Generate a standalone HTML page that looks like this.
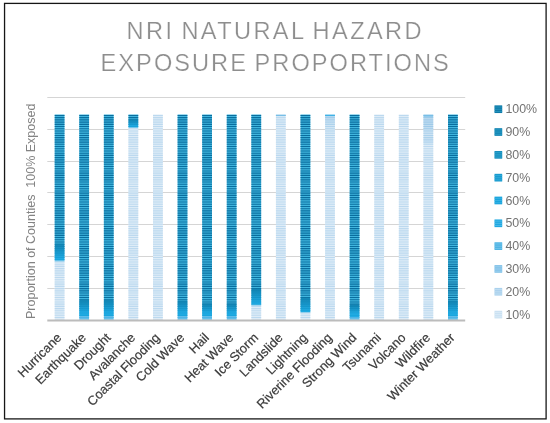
<!DOCTYPE html>
<html lang="en"><head><meta charset="utf-8"><title>NRI Natural Hazard Exposure Proportions</title>
<style>html,body{margin:0;padding:0;background:#fff}body{width:550px;height:423px;overflow:hidden}svg{display:block}text{font-family:"Liberation Sans",Arial,sans-serif}</style></head><body>
<svg width="550" height="423" viewBox="0 0 550 423">
<defs>
<mask id="mk" maskUnits="userSpaceOnUse" x="0" y="0" width="550" height="423"><path fill="#fff" d="M0 114.90h600v1.11h-600zM0 117.12h600v1.11h-600zM0 119.34h600v1.11h-600zM0 121.56h600v1.11h-600zM0 123.78h600v1.11h-600zM0 126.00h600v1.11h-600zM0 128.22h600v1.11h-600zM0 130.44h600v1.11h-600zM0 132.66h600v1.11h-600zM0 134.88h600v1.11h-600zM0 137.10h600v1.11h-600zM0 139.32h600v1.11h-600zM0 141.54h600v1.11h-600zM0 143.76h600v1.11h-600zM0 145.98h600v1.11h-600zM0 148.20h600v1.11h-600zM0 150.42h600v1.11h-600zM0 152.64h600v1.11h-600zM0 154.86h600v1.11h-600zM0 157.08h600v1.11h-600zM0 159.30h600v1.11h-600zM0 161.52h600v1.11h-600zM0 163.74h600v1.11h-600zM0 165.96h600v1.11h-600zM0 168.18h600v1.11h-600zM0 170.40h600v1.11h-600zM0 172.62h600v1.11h-600zM0 174.84h600v1.11h-600zM0 177.06h600v1.11h-600zM0 179.28h600v1.11h-600zM0 181.50h600v1.11h-600zM0 183.72h600v1.11h-600zM0 185.94h600v1.11h-600zM0 188.16h600v1.11h-600zM0 190.38h600v1.11h-600zM0 192.60h600v1.11h-600zM0 194.82h600v1.11h-600zM0 197.04h600v1.11h-600zM0 199.26h600v1.11h-600zM0 201.48h600v1.11h-600zM0 203.70h600v1.11h-600zM0 205.92h600v1.11h-600zM0 208.14h600v1.11h-600zM0 210.36h600v1.11h-600zM0 212.58h600v1.11h-600zM0 214.80h600v1.11h-600zM0 217.02h600v1.11h-600zM0 219.24h600v1.11h-600zM0 221.46h600v1.11h-600zM0 223.68h600v1.11h-600zM0 225.90h600v1.11h-600zM0 228.12h600v1.11h-600zM0 230.34h600v1.11h-600zM0 232.56h600v1.11h-600zM0 234.78h600v1.11h-600zM0 237.00h600v1.11h-600zM0 239.22h600v1.11h-600zM0 241.44h600v1.11h-600zM0 243.66h600v1.11h-600zM0 245.88h600v1.11h-600zM0 248.10h600v1.11h-600zM0 250.32h600v1.11h-600zM0 252.54h600v1.11h-600zM0 254.76h600v1.11h-600zM0 256.98h600v1.11h-600zM0 259.20h600v1.11h-600zM0 261.42h600v1.11h-600zM0 263.64h600v1.11h-600zM0 265.86h600v1.11h-600zM0 268.08h600v1.11h-600zM0 270.30h600v1.11h-600zM0 272.52h600v1.11h-600zM0 274.74h600v1.11h-600zM0 276.96h600v1.11h-600zM0 279.18h600v1.11h-600zM0 281.40h600v1.11h-600zM0 283.62h600v1.11h-600zM0 285.84h600v1.11h-600zM0 288.06h600v1.11h-600zM0 290.28h600v1.11h-600zM0 292.50h600v1.11h-600zM0 294.72h600v1.11h-600zM0 296.94h600v1.11h-600zM0 299.16h600v1.11h-600zM0 301.38h600v1.11h-600zM0 303.60h600v1.11h-600zM0 305.82h600v1.11h-600zM0 308.04h600v1.11h-600zM0 310.26h600v1.11h-600zM0 312.48h600v1.11h-600zM0 314.70h600v1.11h-600zM0 316.92h600v1.11h-600zM0 319.14h600v1.11h-600zM0 321.36h600v1.11h-600zM0 323.58h600v1.11h-600zM0 325.80h600v1.11h-600z"/></mask>
<linearGradient id="g0" gradientUnits="userSpaceOnUse" x1="0" y1="114.5" x2="0" y2="319.6">
<stop offset="0.0000" stop-color="#40b6de"/>
<stop offset="0.6265" stop-color="#40b6de"/>
<stop offset="0.6338" stop-color="#1589b8"/>
<stop offset="0.7036" stop-color="#22ace4"/>
<stop offset="0.7075" stop-color="#22ace4"/>
<stop offset="0.7192" stop-color="#deecf7"/>
<stop offset="1.0000" stop-color="#deecf7"/>
</linearGradient>
<linearGradient id="h0" gradientUnits="userSpaceOnUse" x1="0" y1="114.5" x2="0" y2="319.6">
<stop offset="0.0000" stop-color="#0a6e9f"/>
<stop offset="0.6265" stop-color="#0a6e9f"/>
<stop offset="0.6338" stop-color="#0e80af"/>
<stop offset="0.7036" stop-color="#17a2da"/>
<stop offset="0.7075" stop-color="#17a2da"/>
<stop offset="0.7192" stop-color="#bcd9ef"/>
<stop offset="1.0000" stop-color="#bcd9ef"/>
</linearGradient>
<linearGradient id="g1" gradientUnits="userSpaceOnUse" x1="0" y1="114.5" x2="0" y2="319.6">
<stop offset="0.0000" stop-color="#40b6de"/>
<stop offset="0.8996" stop-color="#40b6de"/>
<stop offset="0.9069" stop-color="#1589b8"/>
<stop offset="0.9664" stop-color="#22ace4"/>
<stop offset="0.9824" stop-color="#22ace4"/>
<stop offset="0.9849" stop-color="#62beea"/>
<stop offset="1.0000" stop-color="#62beea"/>
</linearGradient>
<linearGradient id="h1" gradientUnits="userSpaceOnUse" x1="0" y1="114.5" x2="0" y2="319.6">
<stop offset="0.0000" stop-color="#0a6e9f"/>
<stop offset="0.8996" stop-color="#0a6e9f"/>
<stop offset="0.9069" stop-color="#0e80af"/>
<stop offset="0.9664" stop-color="#17a2da"/>
<stop offset="0.9824" stop-color="#17a2da"/>
<stop offset="0.9849" stop-color="#4fb5e6"/>
<stop offset="1.0000" stop-color="#4fb5e6"/>
</linearGradient>
<linearGradient id="g2" gradientUnits="userSpaceOnUse" x1="0" y1="114.5" x2="0" y2="319.6">
<stop offset="0.0000" stop-color="#40b6de"/>
<stop offset="0.8996" stop-color="#40b6de"/>
<stop offset="0.9069" stop-color="#1589b8"/>
<stop offset="0.9664" stop-color="#22ace4"/>
<stop offset="0.9824" stop-color="#22ace4"/>
<stop offset="0.9849" stop-color="#62beea"/>
<stop offset="1.0000" stop-color="#62beea"/>
</linearGradient>
<linearGradient id="h2" gradientUnits="userSpaceOnUse" x1="0" y1="114.5" x2="0" y2="319.6">
<stop offset="0.0000" stop-color="#0a6e9f"/>
<stop offset="0.8996" stop-color="#0a6e9f"/>
<stop offset="0.9069" stop-color="#0e80af"/>
<stop offset="0.9664" stop-color="#17a2da"/>
<stop offset="0.9824" stop-color="#17a2da"/>
<stop offset="0.9849" stop-color="#4fb5e6"/>
<stop offset="1.0000" stop-color="#4fb5e6"/>
</linearGradient>
<linearGradient id="g3" gradientUnits="userSpaceOnUse" x1="0" y1="114.5" x2="0" y2="319.6">
<stop offset="0.0000" stop-color="#40b6de"/>
<stop offset="0.0195" stop-color="#40b6de"/>
<stop offset="0.0268" stop-color="#1589b8"/>
<stop offset="0.0570" stop-color="#22ace4"/>
<stop offset="0.0609" stop-color="#22ace4"/>
<stop offset="0.0668" stop-color="#deecf7"/>
<stop offset="1.0000" stop-color="#deecf7"/>
</linearGradient>
<linearGradient id="h3" gradientUnits="userSpaceOnUse" x1="0" y1="114.5" x2="0" y2="319.6">
<stop offset="0.0000" stop-color="#0a6e9f"/>
<stop offset="0.0195" stop-color="#0a6e9f"/>
<stop offset="0.0268" stop-color="#0e80af"/>
<stop offset="0.0570" stop-color="#17a2da"/>
<stop offset="0.0609" stop-color="#17a2da"/>
<stop offset="0.0668" stop-color="#bcd9ef"/>
<stop offset="1.0000" stop-color="#bcd9ef"/>
</linearGradient>
<linearGradient id="g4" gradientUnits="userSpaceOnUse" x1="0" y1="114.5" x2="0" y2="319.6">
<stop offset="0.0000" stop-color="#deecf7"/>
<stop offset="1.0000" stop-color="#deecf7"/>
</linearGradient>
<linearGradient id="h4" gradientUnits="userSpaceOnUse" x1="0" y1="114.5" x2="0" y2="319.6">
<stop offset="0.0000" stop-color="#bcd9ef"/>
<stop offset="1.0000" stop-color="#bcd9ef"/>
</linearGradient>
<linearGradient id="g5" gradientUnits="userSpaceOnUse" x1="0" y1="114.5" x2="0" y2="319.6">
<stop offset="0.0000" stop-color="#40b6de"/>
<stop offset="0.9044" stop-color="#40b6de"/>
<stop offset="0.9118" stop-color="#1589b8"/>
<stop offset="0.9664" stop-color="#22ace4"/>
<stop offset="0.9824" stop-color="#22ace4"/>
<stop offset="0.9849" stop-color="#62beea"/>
<stop offset="1.0000" stop-color="#62beea"/>
</linearGradient>
<linearGradient id="h5" gradientUnits="userSpaceOnUse" x1="0" y1="114.5" x2="0" y2="319.6">
<stop offset="0.0000" stop-color="#0a6e9f"/>
<stop offset="0.9044" stop-color="#0a6e9f"/>
<stop offset="0.9118" stop-color="#0e80af"/>
<stop offset="0.9664" stop-color="#17a2da"/>
<stop offset="0.9824" stop-color="#17a2da"/>
<stop offset="0.9849" stop-color="#4fb5e6"/>
<stop offset="1.0000" stop-color="#4fb5e6"/>
</linearGradient>
<linearGradient id="g6" gradientUnits="userSpaceOnUse" x1="0" y1="114.5" x2="0" y2="319.6">
<stop offset="0.0000" stop-color="#40b6de"/>
<stop offset="0.9191" stop-color="#40b6de"/>
<stop offset="0.9264" stop-color="#1589b8"/>
<stop offset="0.9664" stop-color="#22ace4"/>
<stop offset="0.9800" stop-color="#22ace4"/>
<stop offset="0.9824" stop-color="#62beea"/>
<stop offset="1.0000" stop-color="#62beea"/>
</linearGradient>
<linearGradient id="h6" gradientUnits="userSpaceOnUse" x1="0" y1="114.5" x2="0" y2="319.6">
<stop offset="0.0000" stop-color="#0a6e9f"/>
<stop offset="0.9191" stop-color="#0a6e9f"/>
<stop offset="0.9264" stop-color="#0e80af"/>
<stop offset="0.9664" stop-color="#17a2da"/>
<stop offset="0.9800" stop-color="#17a2da"/>
<stop offset="0.9824" stop-color="#4fb5e6"/>
<stop offset="1.0000" stop-color="#4fb5e6"/>
</linearGradient>
<linearGradient id="g7" gradientUnits="userSpaceOnUse" x1="0" y1="114.5" x2="0" y2="319.6">
<stop offset="0.0000" stop-color="#40b6de"/>
<stop offset="0.9191" stop-color="#40b6de"/>
<stop offset="0.9264" stop-color="#1589b8"/>
<stop offset="0.9664" stop-color="#22ace4"/>
<stop offset="0.9800" stop-color="#22ace4"/>
<stop offset="0.9824" stop-color="#62beea"/>
<stop offset="1.0000" stop-color="#62beea"/>
</linearGradient>
<linearGradient id="h7" gradientUnits="userSpaceOnUse" x1="0" y1="114.5" x2="0" y2="319.6">
<stop offset="0.0000" stop-color="#0a6e9f"/>
<stop offset="0.9191" stop-color="#0a6e9f"/>
<stop offset="0.9264" stop-color="#0e80af"/>
<stop offset="0.9664" stop-color="#17a2da"/>
<stop offset="0.9800" stop-color="#17a2da"/>
<stop offset="0.9824" stop-color="#4fb5e6"/>
<stop offset="1.0000" stop-color="#4fb5e6"/>
</linearGradient>
<linearGradient id="g8" gradientUnits="userSpaceOnUse" x1="0" y1="114.5" x2="0" y2="319.6">
<stop offset="0.0000" stop-color="#40b6de"/>
<stop offset="0.8459" stop-color="#40b6de"/>
<stop offset="0.8532" stop-color="#1589b8"/>
<stop offset="0.9215" stop-color="#22ace4"/>
<stop offset="0.9249" stop-color="#22ace4"/>
<stop offset="0.9337" stop-color="#deecf7"/>
<stop offset="1.0000" stop-color="#deecf7"/>
</linearGradient>
<linearGradient id="h8" gradientUnits="userSpaceOnUse" x1="0" y1="114.5" x2="0" y2="319.6">
<stop offset="0.0000" stop-color="#0a6e9f"/>
<stop offset="0.8459" stop-color="#0a6e9f"/>
<stop offset="0.8532" stop-color="#0e80af"/>
<stop offset="0.9215" stop-color="#17a2da"/>
<stop offset="0.9249" stop-color="#17a2da"/>
<stop offset="0.9337" stop-color="#bcd9ef"/>
<stop offset="1.0000" stop-color="#bcd9ef"/>
</linearGradient>
<linearGradient id="g9" gradientUnits="userSpaceOnUse" x1="0" y1="114.5" x2="0" y2="319.6">
<stop offset="0.0000" stop-color="#93cbec"/>
<stop offset="0.0063" stop-color="#93cbec"/>
<stop offset="0.0102" stop-color="#deecf7"/>
<stop offset="1.0000" stop-color="#deecf7"/>
</linearGradient>
<linearGradient id="h9" gradientUnits="userSpaceOnUse" x1="0" y1="114.5" x2="0" y2="319.6">
<stop offset="0.0000" stop-color="#78bee6"/>
<stop offset="0.0063" stop-color="#78bee6"/>
<stop offset="0.0102" stop-color="#bcd9ef"/>
<stop offset="1.0000" stop-color="#bcd9ef"/>
</linearGradient>
<linearGradient id="g10" gradientUnits="userSpaceOnUse" x1="0" y1="114.5" x2="0" y2="319.6">
<stop offset="0.0000" stop-color="#40b6de"/>
<stop offset="0.8898" stop-color="#40b6de"/>
<stop offset="0.8971" stop-color="#1589b8"/>
<stop offset="0.9571" stop-color="#22ace4"/>
<stop offset="0.9605" stop-color="#22ace4"/>
<stop offset="0.9678" stop-color="#deecf7"/>
<stop offset="1.0000" stop-color="#deecf7"/>
</linearGradient>
<linearGradient id="h10" gradientUnits="userSpaceOnUse" x1="0" y1="114.5" x2="0" y2="319.6">
<stop offset="0.0000" stop-color="#0a6e9f"/>
<stop offset="0.8898" stop-color="#0a6e9f"/>
<stop offset="0.8971" stop-color="#0e80af"/>
<stop offset="0.9571" stop-color="#17a2da"/>
<stop offset="0.9605" stop-color="#17a2da"/>
<stop offset="0.9678" stop-color="#bcd9ef"/>
<stop offset="1.0000" stop-color="#bcd9ef"/>
</linearGradient>
<linearGradient id="g11" gradientUnits="userSpaceOnUse" x1="0" y1="114.5" x2="0" y2="319.6">
<stop offset="0.0000" stop-color="#5cbcea"/>
<stop offset="0.0068" stop-color="#5cbcea"/>
<stop offset="0.0102" stop-color="#c0dcf0"/>
<stop offset="0.0366" stop-color="#cde3f3"/>
<stop offset="0.1243" stop-color="#deecf7"/>
<stop offset="1.0000" stop-color="#deecf7"/>
</linearGradient>
<linearGradient id="h11" gradientUnits="userSpaceOnUse" x1="0" y1="114.5" x2="0" y2="319.6">
<stop offset="0.0000" stop-color="#3fb1e5"/>
<stop offset="0.0068" stop-color="#3fb1e5"/>
<stop offset="0.0102" stop-color="#9fcae9"/>
<stop offset="0.0366" stop-color="#abd1ec"/>
<stop offset="0.1243" stop-color="#bcd9ef"/>
<stop offset="1.0000" stop-color="#bcd9ef"/>
</linearGradient>
<linearGradient id="g12" gradientUnits="userSpaceOnUse" x1="0" y1="114.5" x2="0" y2="319.6">
<stop offset="0.0000" stop-color="#40b6de"/>
<stop offset="0.9239" stop-color="#40b6de"/>
<stop offset="0.9313" stop-color="#1589b8"/>
<stop offset="0.9703" stop-color="#22ace4"/>
<stop offset="0.9849" stop-color="#22ace4"/>
<stop offset="0.9873" stop-color="#62beea"/>
<stop offset="1.0000" stop-color="#62beea"/>
</linearGradient>
<linearGradient id="h12" gradientUnits="userSpaceOnUse" x1="0" y1="114.5" x2="0" y2="319.6">
<stop offset="0.0000" stop-color="#0a6e9f"/>
<stop offset="0.9239" stop-color="#0a6e9f"/>
<stop offset="0.9313" stop-color="#0e80af"/>
<stop offset="0.9703" stop-color="#17a2da"/>
<stop offset="0.9849" stop-color="#17a2da"/>
<stop offset="0.9873" stop-color="#4fb5e6"/>
<stop offset="1.0000" stop-color="#4fb5e6"/>
</linearGradient>
<linearGradient id="g13" gradientUnits="userSpaceOnUse" x1="0" y1="114.5" x2="0" y2="319.6">
<stop offset="0.0000" stop-color="#deecf7"/>
<stop offset="1.0000" stop-color="#deecf7"/>
</linearGradient>
<linearGradient id="h13" gradientUnits="userSpaceOnUse" x1="0" y1="114.5" x2="0" y2="319.6">
<stop offset="0.0000" stop-color="#bcd9ef"/>
<stop offset="1.0000" stop-color="#bcd9ef"/>
</linearGradient>
<linearGradient id="g14" gradientUnits="userSpaceOnUse" x1="0" y1="114.5" x2="0" y2="319.6">
<stop offset="0.0000" stop-color="#deecf7"/>
<stop offset="1.0000" stop-color="#deecf7"/>
</linearGradient>
<linearGradient id="h14" gradientUnits="userSpaceOnUse" x1="0" y1="114.5" x2="0" y2="319.6">
<stop offset="0.0000" stop-color="#bcd9ef"/>
<stop offset="1.0000" stop-color="#bcd9ef"/>
</linearGradient>
<linearGradient id="g15" gradientUnits="userSpaceOnUse" x1="0" y1="114.5" x2="0" y2="319.6">
<stop offset="0.0000" stop-color="#93cbec"/>
<stop offset="0.0112" stop-color="#93cbec"/>
<stop offset="0.0151" stop-color="#c0dcf0"/>
<stop offset="0.0658" stop-color="#c0dcf0"/>
<stop offset="0.0853" stop-color="#cde3f3"/>
<stop offset="0.1243" stop-color="#cde3f3"/>
<stop offset="0.1536" stop-color="#deecf7"/>
<stop offset="1.0000" stop-color="#deecf7"/>
</linearGradient>
<linearGradient id="h15" gradientUnits="userSpaceOnUse" x1="0" y1="114.5" x2="0" y2="319.6">
<stop offset="0.0000" stop-color="#78bee6"/>
<stop offset="0.0112" stop-color="#78bee6"/>
<stop offset="0.0151" stop-color="#9fcae9"/>
<stop offset="0.0658" stop-color="#9fcae9"/>
<stop offset="0.0853" stop-color="#abd1ec"/>
<stop offset="0.1243" stop-color="#abd1ec"/>
<stop offset="0.1536" stop-color="#bcd9ef"/>
<stop offset="1.0000" stop-color="#bcd9ef"/>
</linearGradient>
<linearGradient id="g16" gradientUnits="userSpaceOnUse" x1="0" y1="114.5" x2="0" y2="319.6">
<stop offset="0.0000" stop-color="#40b6de"/>
<stop offset="0.9044" stop-color="#40b6de"/>
<stop offset="0.9118" stop-color="#1589b8"/>
<stop offset="0.9664" stop-color="#22ace4"/>
<stop offset="0.9824" stop-color="#22ace4"/>
<stop offset="0.9849" stop-color="#62beea"/>
<stop offset="1.0000" stop-color="#62beea"/>
</linearGradient>
<linearGradient id="h16" gradientUnits="userSpaceOnUse" x1="0" y1="114.5" x2="0" y2="319.6">
<stop offset="0.0000" stop-color="#0a6e9f"/>
<stop offset="0.9044" stop-color="#0a6e9f"/>
<stop offset="0.9118" stop-color="#0e80af"/>
<stop offset="0.9664" stop-color="#17a2da"/>
<stop offset="0.9824" stop-color="#17a2da"/>
<stop offset="0.9849" stop-color="#4fb5e6"/>
<stop offset="1.0000" stop-color="#4fb5e6"/>
</linearGradient>
</defs>
<rect x="0" y="0" width="550" height="423" fill="#fff"/>
<rect x="4.55" y="3.4" width="541.55" height="415.5" fill="#fff" stroke="#161616" stroke-width="1.3"/>
<g fill="#8e8e8e" stroke="#fff" stroke-width="0.25" font-size="24.7" text-anchor="start" word-spacing="-1.98">
<text id="t1" transform="translate(126.6 38.8) scale(0.955 1)" letter-spacing="2.5">NRI NATURAL HAZARD</text>
<text id="t2" transform="translate(100.6 71.2) scale(0.955 1)" letter-spacing="2.13">EXPOSURE PROPORTIONS</text>
</g>
<line x1="47.3" x2="465.2" y1="97.50" y2="97.50" stroke="#d5d5d5" stroke-width="1"/>
<line x1="47.3" x2="465.2" y1="129.50" y2="129.50" stroke="#d5d5d5" stroke-width="1"/>
<line x1="47.3" x2="465.2" y1="161.50" y2="161.50" stroke="#d5d5d5" stroke-width="1"/>
<line x1="47.3" x2="465.2" y1="192.50" y2="192.50" stroke="#d5d5d5" stroke-width="1"/>
<line x1="47.3" x2="465.2" y1="224.50" y2="224.50" stroke="#d5d5d5" stroke-width="1"/>
<line x1="47.3" x2="465.2" y1="256.50" y2="256.50" stroke="#d5d5d5" stroke-width="1"/>
<line x1="47.3" x2="465.2" y1="288.50" y2="288.50" stroke="#d5d5d5" stroke-width="1"/>
<g id="bars">
<rect x="54.69" y="114.5" width="9.8" height="205.10" fill="url(#g0)"/>
<rect x="79.27" y="114.5" width="9.8" height="205.10" fill="url(#g1)"/>
<rect x="103.86" y="114.5" width="9.8" height="205.10" fill="url(#g2)"/>
<rect x="128.44" y="114.5" width="9.8" height="205.10" fill="url(#g3)"/>
<rect x="153.02" y="114.5" width="9.8" height="205.10" fill="url(#g4)"/>
<rect x="177.60" y="114.5" width="9.8" height="205.10" fill="url(#g5)"/>
<rect x="202.19" y="114.5" width="9.8" height="205.10" fill="url(#g6)"/>
<rect x="226.77" y="114.5" width="9.8" height="205.10" fill="url(#g7)"/>
<rect x="251.35" y="114.5" width="9.8" height="205.10" fill="url(#g8)"/>
<rect x="275.93" y="114.5" width="9.8" height="205.10" fill="url(#g9)"/>
<rect x="300.51" y="114.5" width="9.8" height="205.10" fill="url(#g10)"/>
<rect x="325.10" y="114.5" width="9.8" height="205.10" fill="url(#g11)"/>
<rect x="349.68" y="114.5" width="9.8" height="205.10" fill="url(#g12)"/>
<rect x="374.26" y="114.5" width="9.8" height="205.10" fill="url(#g13)"/>
<rect x="398.84" y="114.5" width="9.8" height="205.10" fill="url(#g14)"/>
<rect x="423.43" y="114.5" width="9.8" height="205.10" fill="url(#g15)"/>
<rect x="448.01" y="114.5" width="9.8" height="205.10" fill="url(#g16)"/>
</g><g id="stripes" mask="url(#mk)">
<rect x="54.69" y="114.5" width="9.8" height="205.10" fill="url(#h0)"/>
<rect x="79.27" y="114.5" width="9.8" height="205.10" fill="url(#h1)"/>
<rect x="103.86" y="114.5" width="9.8" height="205.10" fill="url(#h2)"/>
<rect x="128.44" y="114.5" width="9.8" height="205.10" fill="url(#h3)"/>
<rect x="153.02" y="114.5" width="9.8" height="205.10" fill="url(#h4)"/>
<rect x="177.60" y="114.5" width="9.8" height="205.10" fill="url(#h5)"/>
<rect x="202.19" y="114.5" width="9.8" height="205.10" fill="url(#h6)"/>
<rect x="226.77" y="114.5" width="9.8" height="205.10" fill="url(#h7)"/>
<rect x="251.35" y="114.5" width="9.8" height="205.10" fill="url(#h8)"/>
<rect x="275.93" y="114.5" width="9.8" height="205.10" fill="url(#h9)"/>
<rect x="300.51" y="114.5" width="9.8" height="205.10" fill="url(#h10)"/>
<rect x="325.10" y="114.5" width="9.8" height="205.10" fill="url(#h11)"/>
<rect x="349.68" y="114.5" width="9.8" height="205.10" fill="url(#h12)"/>
<rect x="374.26" y="114.5" width="9.8" height="205.10" fill="url(#h13)"/>
<rect x="398.84" y="114.5" width="9.8" height="205.10" fill="url(#h14)"/>
<rect x="423.43" y="114.5" width="9.8" height="205.10" fill="url(#h15)"/>
<rect x="448.01" y="114.5" width="9.8" height="205.10" fill="url(#h16)"/>
</g>
<line x1="47.3" x2="465.2" y1="320.5" y2="320.5" stroke="#bcbcbc" stroke-width="2.1"/>
<text id="yl" transform="translate(35.2 319) rotate(-90)" font-size="12.5" fill="#838383" xml:space="preserve">Proportion of Counties  100% Exposed</text>
<g font-size="12.85" fill="#3a3a3a" stroke="#3a3a3a" stroke-width="0.2" text-anchor="end">
<text transform="translate(62.29 338.5) rotate(-45)">Hurricane</text>
<text transform="translate(86.87 338.5) rotate(-45)">Earthquake</text>
<text transform="translate(111.46 338.5) rotate(-45)">Drought</text>
<text transform="translate(136.04 338.5) rotate(-45)">Avalanche</text>
<text transform="translate(160.62 338.5) rotate(-45)">Coastal Flooding</text>
<text transform="translate(185.20 338.5) rotate(-45)">Cold Wave</text>
<text transform="translate(209.79 338.5) rotate(-45)">Hail</text>
<text transform="translate(234.37 338.5) rotate(-45)">Heat Wave</text>
<text transform="translate(258.95 338.5) rotate(-45)">Ice Storm</text>
<text transform="translate(283.53 338.5) rotate(-45)">Landslide</text>
<text transform="translate(308.11 338.5) rotate(-45)">Lightning</text>
<text transform="translate(332.70 338.5) rotate(-45)">Riverine Flooding</text>
<text transform="translate(357.28 338.5) rotate(-45)">Strong Wind</text>
<text transform="translate(381.86 338.5) rotate(-45)">Tsunami</text>
<text transform="translate(406.44 338.5) rotate(-45)">Volcano</text>
<text transform="translate(431.03 338.5) rotate(-45)">Wildfire</text>
<text transform="translate(455.61 338.5) rotate(-45)">Winter Weather</text>
</g>
<g font-size="12.4" fill="#737373">
<rect x="494.5" y="105.35" width="7.7" height="7.7" fill="#0e7aa8"/>
<path d="M494.5 107.05h7.7M494.5 109.25h7.7M494.5 111.45h7.7" stroke="#2f9fc7" stroke-width="0.7" fill="none"/>
<text x="505.4" y="113.30">100%</text>
<rect x="494.5" y="128.17" width="7.7" height="7.7" fill="#1284b2"/>
<path d="M494.5 129.87h7.7M494.5 132.07h7.7M494.5 134.27h7.7" stroke="#33a5cc" stroke-width="0.7" fill="none"/>
<text x="505.4" y="136.12">90%</text>
<rect x="494.5" y="150.99" width="7.7" height="7.7" fill="#178ebd"/>
<path d="M494.5 152.69h7.7M494.5 154.89h7.7M494.5 157.09h7.7" stroke="#37aad2" stroke-width="0.7" fill="none"/>
<text x="505.4" y="158.94">80%</text>
<rect x="494.5" y="173.81" width="7.7" height="7.7" fill="#189bcf"/>
<path d="M494.5 175.51h7.7M494.5 177.71h7.7M494.5 179.91h7.7" stroke="#3ab0de" stroke-width="0.7" fill="none"/>
<text x="505.4" y="181.76">70%</text>
<rect x="494.5" y="196.63" width="7.7" height="7.7" fill="#19a5dd"/>
<path d="M494.5 198.33h7.7M494.5 200.53h7.7M494.5 202.73h7.7" stroke="#45b8e8" stroke-width="0.7" fill="none"/>
<text x="505.4" y="204.58">60%</text>
<rect x="494.5" y="219.45" width="7.7" height="7.7" fill="#1ea8e1"/>
<path d="M494.5 221.15h7.7M494.5 223.35h7.7M494.5 225.55h7.7" stroke="#5cc0ec" stroke-width="0.7" fill="none"/>
<text x="505.4" y="227.40">50%</text>
<rect x="494.5" y="242.27" width="7.7" height="7.7" fill="#4cb3e4"/>
<path d="M494.5 243.97h7.7M494.5 246.17h7.7M494.5 248.37h7.7" stroke="#83cbee" stroke-width="0.7" fill="none"/>
<text x="505.4" y="250.22">40%</text>
<rect x="494.5" y="265.09" width="7.7" height="7.7" fill="#80c1e8"/>
<path d="M494.5 266.79h7.7M494.5 268.99h7.7M494.5 271.19h7.7" stroke="#a9d6f0" stroke-width="0.7" fill="none"/>
<text x="505.4" y="273.04">30%</text>
<rect x="494.5" y="287.91" width="7.7" height="7.7" fill="#aad1ed"/>
<path d="M494.5 289.61h7.7M494.5 291.81h7.7M494.5 294.01h7.7" stroke="#c8e2f4" stroke-width="0.7" fill="none"/>
<text x="505.4" y="295.86">20%</text>
<rect x="494.5" y="310.73" width="7.7" height="7.7" fill="#cae1f2"/>
<path d="M494.5 312.43h7.7M494.5 314.63h7.7M494.5 316.83h7.7" stroke="#e0eef8" stroke-width="0.7" fill="none"/>
<text x="505.4" y="318.68">10%</text>
</g>
</svg></body></html>
